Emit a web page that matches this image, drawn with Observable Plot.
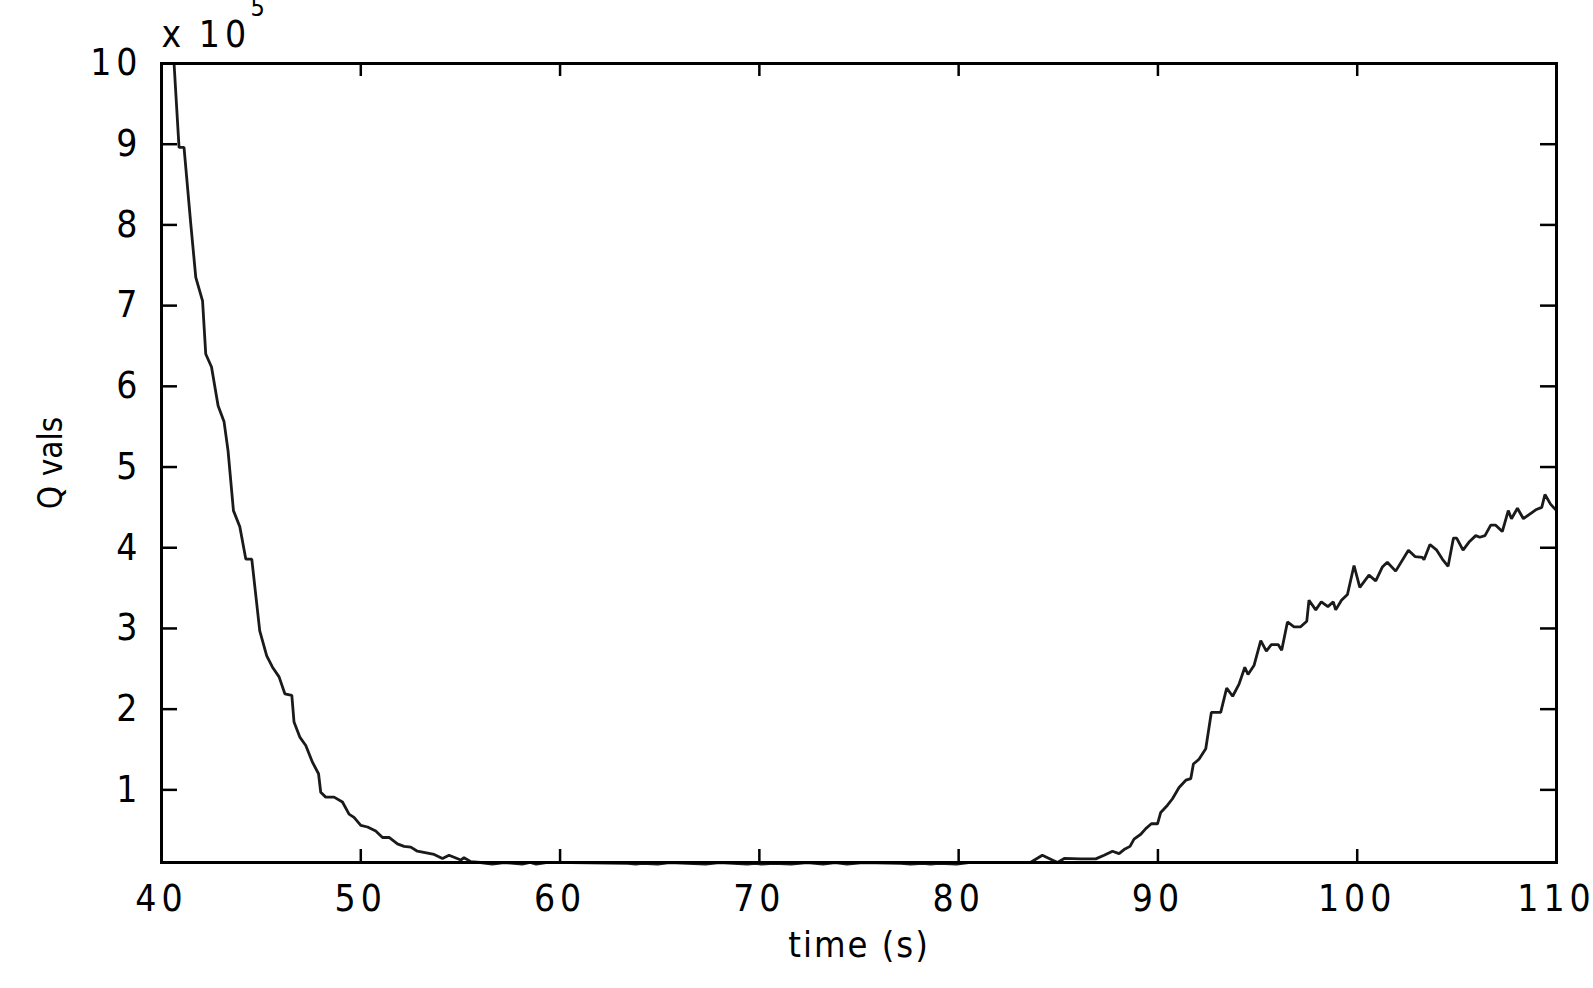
<!DOCTYPE html>
<html>
<head>
<meta charset="utf-8">
<script src="https://cdn.jsdelivr.net/npm/d3@7"></script>
<script src="https://cdn.jsdelivr.net/npm/@observablehq/plot@0.6"></script>
<style>
  html, body { margin: 0; padding: 0; background: #fff; }
  #chart svg { display: block; }
</style>
</head>
<body>
<div id="chart"></div>
<script>
// time in seconds
const time = [
  40.63, 40.88, 41.13, 41.47, 41.72, 42.06, 42.22, 42.51, 42.84, 43.14,
  43.34, 43.61, 43.93, 44.23, 44.53, 44.93, 45.28, 45.57, 45.90, 46.19,
  46.54, 46.65, 46.95, 47.24, 47.58, 47.88, 47.99, 48.24, 48.66, 49.08,
  49.41, 49.66, 50.00, 50.34, 50.75, 51.09, 51.42, 51.84, 52.17, 52.51,
  52.84, 53.68, 54.10, 54.43, 55.02, 55.18, 55.52, 56.0, 56.6, 57.2,
  58.1, 58.5, 58.8, 59.3, 60.5, 63.4, 63.8, 64.1, 64.9, 65.5,
  67.3, 68.0, 69.4, 69.8, 70.1, 70.7, 71.6, 72.4, 73.2, 73.8,
  74.4, 75.2, 77.1, 77.6, 78.2, 78.6, 79.0, 79.9, 80.5, 83.6,
  84.2, 84.96, 85.3, 86.13, 86.88, 87.30, 87.72, 88.05, 88.30, 88.60,
  88.80, 89.14, 89.39, 89.67, 89.98, 90.14, 90.48, 90.73, 91.06, 91.40,
  91.65, 91.78, 92.06, 92.40, 92.68, 93.15, 93.45, 93.75, 94.07, 94.36,
  94.52, 94.82, 95.16, 95.44, 95.69, 96.03, 96.21, 96.50, 96.83, 97.16,
  97.47, 97.58, 97.92, 98.20, 98.53, 98.80, 98.92, 99.21, 99.51, 99.84,
  100.13, 100.59, 100.93, 101.26, 101.51, 101.93, 102.57, 102.90, 103.27, 103.35,
  103.65, 103.99, 104.27, 104.56, 104.83, 104.99, 105.31, 105.61, 105.95, 106.15,
  106.41, 106.70, 106.95, 107.28, 107.58, 107.74, 108.04, 108.34, 108.96, 109.26,
  109.42, 109.70, 110.00
];
// Q values (x 10^5)
const qvals = [
  10.0, 8.96, 8.96, 8.01, 7.35, 7.06, 6.40, 6.24, 5.76, 5.56,
  5.20, 4.46, 4.26, 3.86, 3.86, 2.97, 2.66, 2.52, 2.40, 2.19,
  2.17, 1.84, 1.65, 1.55, 1.34, 1.20, 0.97, 0.91, 0.91, 0.85,
  0.70, 0.66, 0.56, 0.54, 0.49, 0.41, 0.41, 0.33, 0.30, 0.29,
  0.24, 0.20, 0.15, 0.19, 0.13, 0.16, 0.11, 0.10, 0.08, 0.10,
  0.08, 0.10, 0.08, 0.10, 0.10, 0.09, 0.08, 0.09, 0.08, 0.10,
  0.08, 0.10, 0.08, 0.09, 0.08, 0.09, 0.08, 0.10, 0.08, 0.10,
  0.08, 0.10, 0.09, 0.08, 0.09, 0.08, 0.09, 0.08, 0.10, 0.10,
  0.19, 0.10, 0.15, 0.145, 0.145, 0.19, 0.24, 0.21, 0.26, 0.30,
  0.39, 0.45, 0.52, 0.58, 0.58, 0.72, 0.81, 0.89, 1.03, 1.12,
  1.14, 1.32, 1.38, 1.51, 1.96, 1.96, 2.26, 2.16, 2.31, 2.52,
  2.43, 2.54, 2.85, 2.72, 2.80, 2.80, 2.73, 3.08, 3.02, 3.02,
  3.09, 3.35, 3.23, 3.33, 3.27, 3.33, 3.23, 3.35, 3.42, 3.78,
  3.51, 3.66, 3.59, 3.76, 3.82, 3.71, 3.97, 3.89, 3.88, 3.85,
  4.04, 3.97, 3.86, 3.77, 4.12, 4.12, 3.97, 4.07, 4.15, 4.13,
  4.15, 4.28, 4.28, 4.20, 4.46, 4.36, 4.49, 4.36, 4.47, 4.50,
  4.66, 4.54, 4.46
];
const xTicks = [40, 50, 60, 70, 80, 90, 100, 110];
const yTicks = [1, 2, 3, 4, 5, 6, 7, 8, 9, 10];
const xDomain = [40, 110];
const yDomain = [0.1, 10];
const xLabel = "time (s)";
const yLabel = "Q vals";
const expBase = "x 10";
const expPower = "5";

const data = time.map((t, i) => ({t, q: qvals[i]}));

const W = 1593, H = 988;
const mL = 161, mR = 37, mT = 63, mB = 126;
const innerW = W - mL - mR, innerH = H - mT - mB;
const font = "'DejaVu Sans Condensed', 'DejaVu Sans', sans-serif";

const chart = Plot.plot({
  width: W,
  height: H,
  marginLeft: mL,
  marginRight: mR,
  marginTop: mT,
  marginBottom: mB,
  style: {fontFamily: font, background: "#fff", color: "#000"},
  x: {domain: xDomain},
  y: {domain: yDomain},
  marks: [
    Plot.axisX({ticks: xTicks, tickSize: 0, tickPadding: 22, fontSize: 37, label: null, tickFormat: d => String(d)}),
    Plot.axisY({ticks: yTicks, tickSize: 0, tickPadding: 19, fontSize: 37, label: null, tickFormat: d => String(d)}),
    // inward ticks, all four sides
    Plot.ruleX(xTicks, {x: d => d, insetTop: innerH - 13, stroke: "#000", strokeWidth: 2.5}),
    Plot.ruleX(xTicks, {x: d => d, insetBottom: innerH - 13, stroke: "#000", strokeWidth: 2.5}),
    Plot.ruleY(yTicks, {y: d => d, insetRight: innerW - 16, stroke: "#000", strokeWidth: 2.5}),
    Plot.ruleY(yTicks, {y: d => d, insetLeft: innerW - 16, stroke: "#000", strokeWidth: 2.5}),
    Plot.line(data, {x: "t", y: "q", stroke: "#1a1a1a", strokeWidth: 2.8, strokeLinejoin: "miter"}),
    Plot.frame({stroke: "#000", strokeWidth: 3}),
    Plot.text([xLabel], {frameAnchor: "bottom", dy: 83, textAnchor: "middle", lineAnchor: "middle", fontSize: 36, text: d => d}),
    Plot.text([yLabel], {frameAnchor: "left", dx: -110, rotate: -90, textAnchor: "middle", lineAnchor: "middle", fontSize: 33, text: d => d}),
    Plot.text([expBase], {frameAnchor: "top-left", dx: 0, dy: -28, textAnchor: "start", lineAnchor: "middle", fontSize: 37, text: d => d}),
    Plot.text([expPower], {frameAnchor: "top-left", dx: 89, dy: -56, textAnchor: "start", lineAnchor: "middle", fontSize: 25, text: d => d})
  ]
});

document.getElementById("chart").appendChild(chart);

// spaced-out glyphs like the original export
const svg = d3.select(chart);
svg.selectAll("g[aria-label='x-axis tick label'] text").style("letter-spacing", "5px");
svg.selectAll("g[aria-label='y-axis tick label'] text").style("letter-spacing", "5px");
svg.selectAll("g[aria-label='text'] text").each(function() {
  const t = d3.select(this).text();
  if (t === expBase) d3.select(this).style("letter-spacing", "5px").style("word-spacing", "-3px");
  if (t === xLabel) d3.select(this).style("letter-spacing", "2px");
});
</script>
</body>
</html>
